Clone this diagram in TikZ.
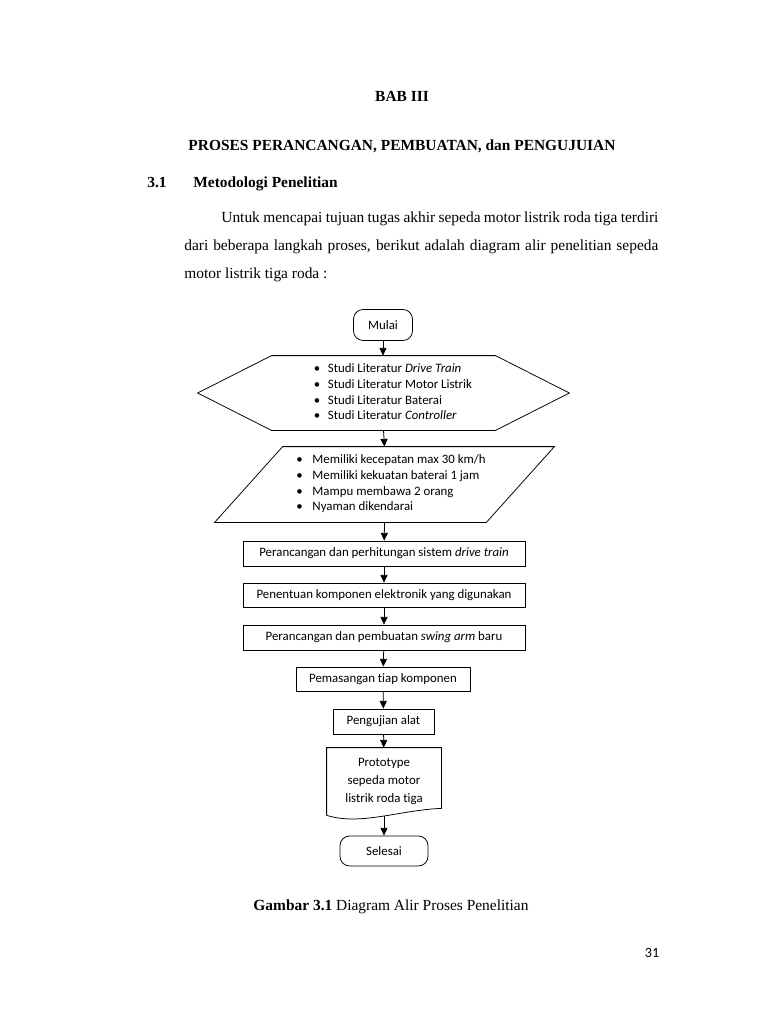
\documentclass[tikz,border=0pt]{standalone}
\usepackage{fontspec}
\setmainfont{Liberation Serif}
\newfontfamily\calibri[Ligatures=NoCommon]{Carlito}
\usetikzlibrary{arrows.meta}
\newcommand{\itm}[1]{\makebox[#1][l]{\textbullet}}
\tikzset{
    body/.style={inner sep=0pt, font=\fontsize{12}{14}\selectfont},
    boldbody/.style={inner sep=0pt, font=\bfseries\fontsize{12}{14}\selectfont},
    boxsize/.style 2 args={minimum width={#1*0.02734375cm}, minimum height={#2*0.02734375cm}},
    flowtext/.style={inner sep=0pt, font=\calibri\fontsize{10}{12.2}\selectfont},
    flowbox/.style={draw, rectangle, flowtext},
    terminal/.style={flowbox, rounded corners=7.5pt},
    flow/.style={line width=0.6pt, -{Triangle[length=6pt,width=5.5pt]}}
}
\begin{document}
\begin{tikzpicture}[x=0.02734375cm, y=-0.02734375cm, line width=0.6pt]
            \path[fill=white, use as bounding box] (0,0) rectangle (768,1024);

            \node[boldbody] (bab)   at (402, 96) {BAB III};
            \node[boldbody] (judul) at (402, 146) {PROSES PERANCANGAN, PEMBUATAN, dan PENGUJUIAN};
            \node[boldbody, anchor=base west] (subno)  at (147, 187) {3.1};
            \node[boldbody, anchor=base west] (subjud) at (193, 187) {Metodologi Penelitian};
            \node[body, anchor=base west] (para1) at (221, 222) {\makebox[11.95cm][s]{Untuk mencapai tujuan tugas akhir sepeda motor listrik roda tiga terdiri}};
            \node[body, anchor=base west] (para2) at (184, 250) {\makebox[12.96cm][s]{dari beberapa langkah proses, berikut adalah diagram alir penelitian sepeda}};
            \node[body, anchor=base west] (para3) at (184, 278) {motor listrik tiga roda :};

            \node[terminal, boxsize={59}{31}] (mulai) at (383, 325) {Mulai};

            \node[boxsize={371}{74}, inner sep=0pt] (lit) at (383.5, 393) {};
            \draw (lit.west) -- ([xshift=2.02cm]lit.north west) -- ([xshift=-2.02cm]lit.north east)
                -- (lit.east) -- ([xshift=-2.02cm]lit.south east) -- ([xshift=2.02cm]lit.south west) -- cycle;
            \node[flowtext, align=left] (littext) at (393, 392) {%
                \itm{0.38cm}Studi Literatur \textit{Drive Train}\\
                \itm{0.38cm}Studi Literatur Motor Listrik\\
                \itm{0.38cm}Studi Literatur Baterai\\
                \itm{0.38cm}Studi Literatur \textit{Controller}};

            \node[boxsize={339}{75}, inner sep=0pt] (spek) at (384.5, 484.5) {};
            \draw ([xshift=1.86cm]spek.north west) -- (spek.north east)
                -- ([xshift=-1.86cm]spek.south east) -- (spek.south west) -- cycle;
            \node[flowtext, align=left] (spektext) at (391, 484) {%
                \itm{0.44cm}Memiliki kecepatan max 30 km/h\\
                \itm{0.44cm}Memiliki kekuatan baterai 1 jam\\
                \itm{0.44cm}Mampu membawa 2 orang\\
                \itm{0.44cm}Nyaman dikendarai};

            \node[flowbox, boxsize={282}{25}] (desain) at (384, 553.5) {Perancangan dan perhitungan sistem \textit{drive train}};
            \node[flowbox, boxsize={282}{24}] (komp)   at (384, 595) {Penentuan komponen elektronik yang digunakan};
            \node[flowbox, boxsize={282}{25}] (swing)  at (384, 637.5) {Perancangan dan pembuatan \textit{swing arm} baru};
            \node[flowbox, boxsize={174}{24}] (pasang) at (383, 679) {Pemasangan tiap komponen};
            \node[flowbox, boxsize={101}{25}] (uji)    at (383.5, 721.5) {Pengujian alat};

            \node[boxsize={114}{64}, inner sep=0pt] (proto) at (384, 780) {};
            \draw ([yshift=-0.08cm]proto.south west) -- (proto.north west) -- (proto.north east)
                -- ([yshift=0.11cm]proto.south east) .. controls (400, 810) and (360, 826) .. ([yshift=-0.08cm]proto.south west);
            \node[flowtext, align=center, font=\calibri\fontsize{10}{14}\selectfont] (prototext) at (384, 781) {Prototype\\sepeda motor\\listrik roda tiga};

            \node[terminal, boxsize={88}{30}] (selesai) at (384, 851) {Selesai};

            \draw[flow] (mulai) -- (mulai |- lit.north);
            \draw[flow] (lit.south) -- (spek.north);
            \draw[flow] (spek.south) -- (desain);
            \draw[flow] (desain) -- (komp);
            \draw[flow] (komp) -- (swing);
            \draw[flow] (swing) -- (pasang);
            \draw[flow] (pasang) -- (uji);
            \draw[flow] (uji) -- (proto);
            \draw[flow] ([yshift=-0.1cm]proto.south) -- (selesai);

            \node[body] (caption) at (391, 907) {\textbf{Gambar 3.1} Diagram Alir Proses Penelitian};
            \node[inner sep=0pt, font=\calibri\fontsize{11}{13}\selectfont] (halaman) at (652, 953) {31};
        \end{tikzpicture}
\end{document}
